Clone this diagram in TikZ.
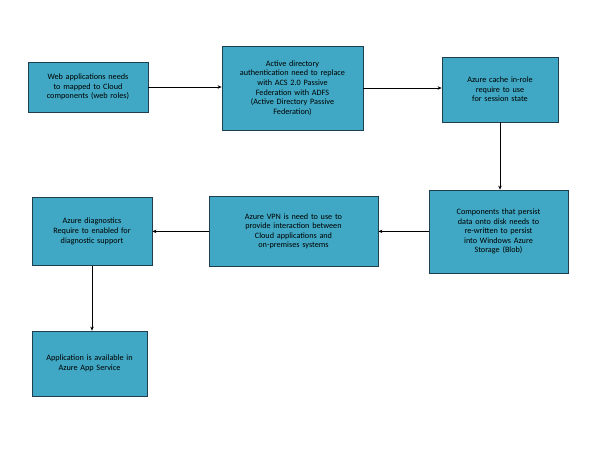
\documentclass[tikz,border=0pt]{standalone}
\usepackage{fontspec}
\setmainfont{Carlito}
\usetikzlibrary{arrows.meta}
\definecolor{boxfill}{HTML}{40A8C4}
\definecolor{boxline}{HTML}{1F3F4F}
\begin{document}
\begin{tikzpicture}[x=1pt,y=-1pt,
  box/.style={draw=boxline,fill=boxfill,line width=0.8pt,align=center,font=\fontsize{8.2}{9.6}\selectfont,inner sep=1pt},
  conn/.style={-{Stealth[length=4pt,width=3.5pt]},line width=0.6pt,black}]
\useasboundingbox (0,0) rectangle (600,450);
\node[box,minimum width=120,minimum height=50,text width=116] (a) at (88,87) {Web applications needs\\to mapped to Cloud\\components (web roles)};
\node[box,minimum width=141,minimum height=84,text width=136] (b) at (292.5,88) {Active directory\\authentication need to replace\\with ACS 2.0 Passive\\Federation with ADFS\\(Active Directory Passive\\Federation)};
\node[box,minimum width=116,minimum height=65,text width=112] (c) at (500,89.5) {Azure cache in-role\\require to  use\\for session state};
\node[box,minimum width=139,minimum height=83,text width=135] (d) at (498.5,231.5) {Components that persist\\data onto disk needs to\\re-written to persist\\into Windows Azure\\Storage (Blob)};
\node[box,minimum width=169,minimum height=70,text width=165,anchor=north] (e) at (293.5,196) {Azure VPN is need to use to\\provide interaction between\\Cloud applications and\\on-premises systems\\[18pt]};
\node[box,minimum width=120,minimum height=68,text width=116,anchor=north] (f) at (92,197) {Azure diagnostics\\Require to enabled for\\diagnostic support\\[24pt]};
\node[box,minimum width=115,minimum height=65,text width=111] (g) at (89.5,363.5) {Application is available in\\Azure App Service};
\draw[conn] (a.east) -- (b.west|-a.east);
\draw[conn] (b.east) -- (c.west|-b.east);
\draw[conn] (c.south) -- (d.north-|c.south);
\draw[conn] (d.west|-e.east) -- (e.east);
\draw[conn] (e.west) -- (f.east|-e.west);
\draw[conn] (f.south) -- (g.north-|f.south);
\end{tikzpicture}
\end{document}
